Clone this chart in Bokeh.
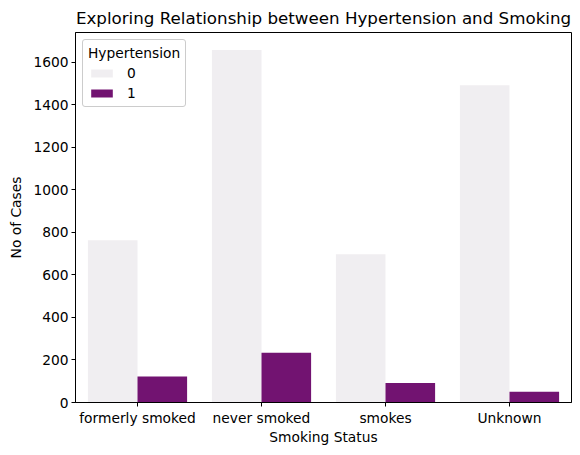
from bokeh.plotting import figure
from bokeh.models import ColumnDataSource, FactorRange, Range1d, Legend, LegendItem, FixedTicker
from bokeh.transform import dodge
from bokeh.embed import file_html
from bokeh.resources import INLINE

categories = ["formerly smoked", "never smoked", "smokes", "Unknown"]
hyper_0 = [763, 1658, 697, 1493]
hyper_1 = [122, 234, 92, 51]
hue_labels = ["0", "1"]
colors = ["#f0eef1", "#721371"]
y_ticks = [0, 200, 400, 600, 800, 1000, 1200, 1400, 1600]

src = ColumnDataSource(dict(cat=categories, h0=hyper_0, h1=hyper_1))

FONT = "DejaVu Sans"
p = figure(width=572, height=447, output_backend="svg", toolbar_location=None,
           x_range=FactorRange(*categories, range_padding=0),
           y_range=Range1d(0, max(hyper_0) * 1.05),
           title="Exploring Relationship between Hypertension and Smoking",
           min_border_left=75, min_border_right=1, min_border_top=32, min_border_bottom=40)

r0 = p.vbar(x=dodge("cat", -0.2, range=p.x_range), top="h0", width=0.4, source=src,
            fill_color=colors[0], line_color=None)
r1 = p.vbar(x=dodge("cat", 0.2, range=p.x_range), top="h1", width=0.4, source=src,
            fill_color=colors[1], line_color=None)

p.title.text_font = FONT
p.title.text_font_size = "16.7px"
p.title.text_font_style = "normal"
p.title.align = "center"
p.title.text_color = "black"

p.xgrid.visible = False
p.ygrid.visible = False
p.outline_line_color = "black"
p.outline_line_width = 1
p.background_fill_color = "white"
p.border_fill_color = "white"

p.yaxis.ticker = FixedTicker(ticks=y_ticks)
for ax in (p.xaxis[0], p.yaxis[0]):
    ax.major_label_text_font = FONT
    ax.major_label_text_font_size = "13.8px"
    ax.major_label_text_color = "black"
    ax.axis_label_text_font = FONT
    ax.axis_label_text_font_size = "13.8px"
    ax.axis_label_text_font_style = "normal"
    ax.axis_label_text_color = "black"
    ax.major_tick_in = 0
    ax.major_tick_out = 4
    ax.minor_tick_in = 0
    ax.minor_tick_out = 0
    ax.axis_line_color = "black"
    ax.major_tick_line_color = "black"
    ax.major_label_standoff = 3
p.xaxis.axis_label_standoff = 0
p.yaxis.axis_label_standoff = 6
p.xaxis.axis_label = "Smoking Status"
p.yaxis.axis_label = "No of Cases"

legend = Legend(items=[LegendItem(label=hue_labels[0], renderers=[r0]),
                       LegendItem(label=hue_labels[1], renderers=[r1])],
                location="top_left", title="Hypertension")
legend.title_text_font = FONT
legend.title_text_font_size = "13.8px"
legend.title_text_font_style = "normal"
legend.title_text_color = "black"
legend.title_standoff = 4
legend.label_text_font = FONT
legend.label_text_font_size = "13.8px"
legend.label_text_color = "black"
legend.border_line_color = "#cccccc"
legend.border_line_alpha = 1
legend.background_fill_alpha = 0.8
legend.glyph_width = 27
legend.glyph_height = 10
legend.label_standoff = 12
legend.spacing = 4
legend.padding = 5
legend.margin = 7
legend.border_radius = 3
p.add_layout(legend)

open("out.html", "w").write(file_html(p, INLINE))
